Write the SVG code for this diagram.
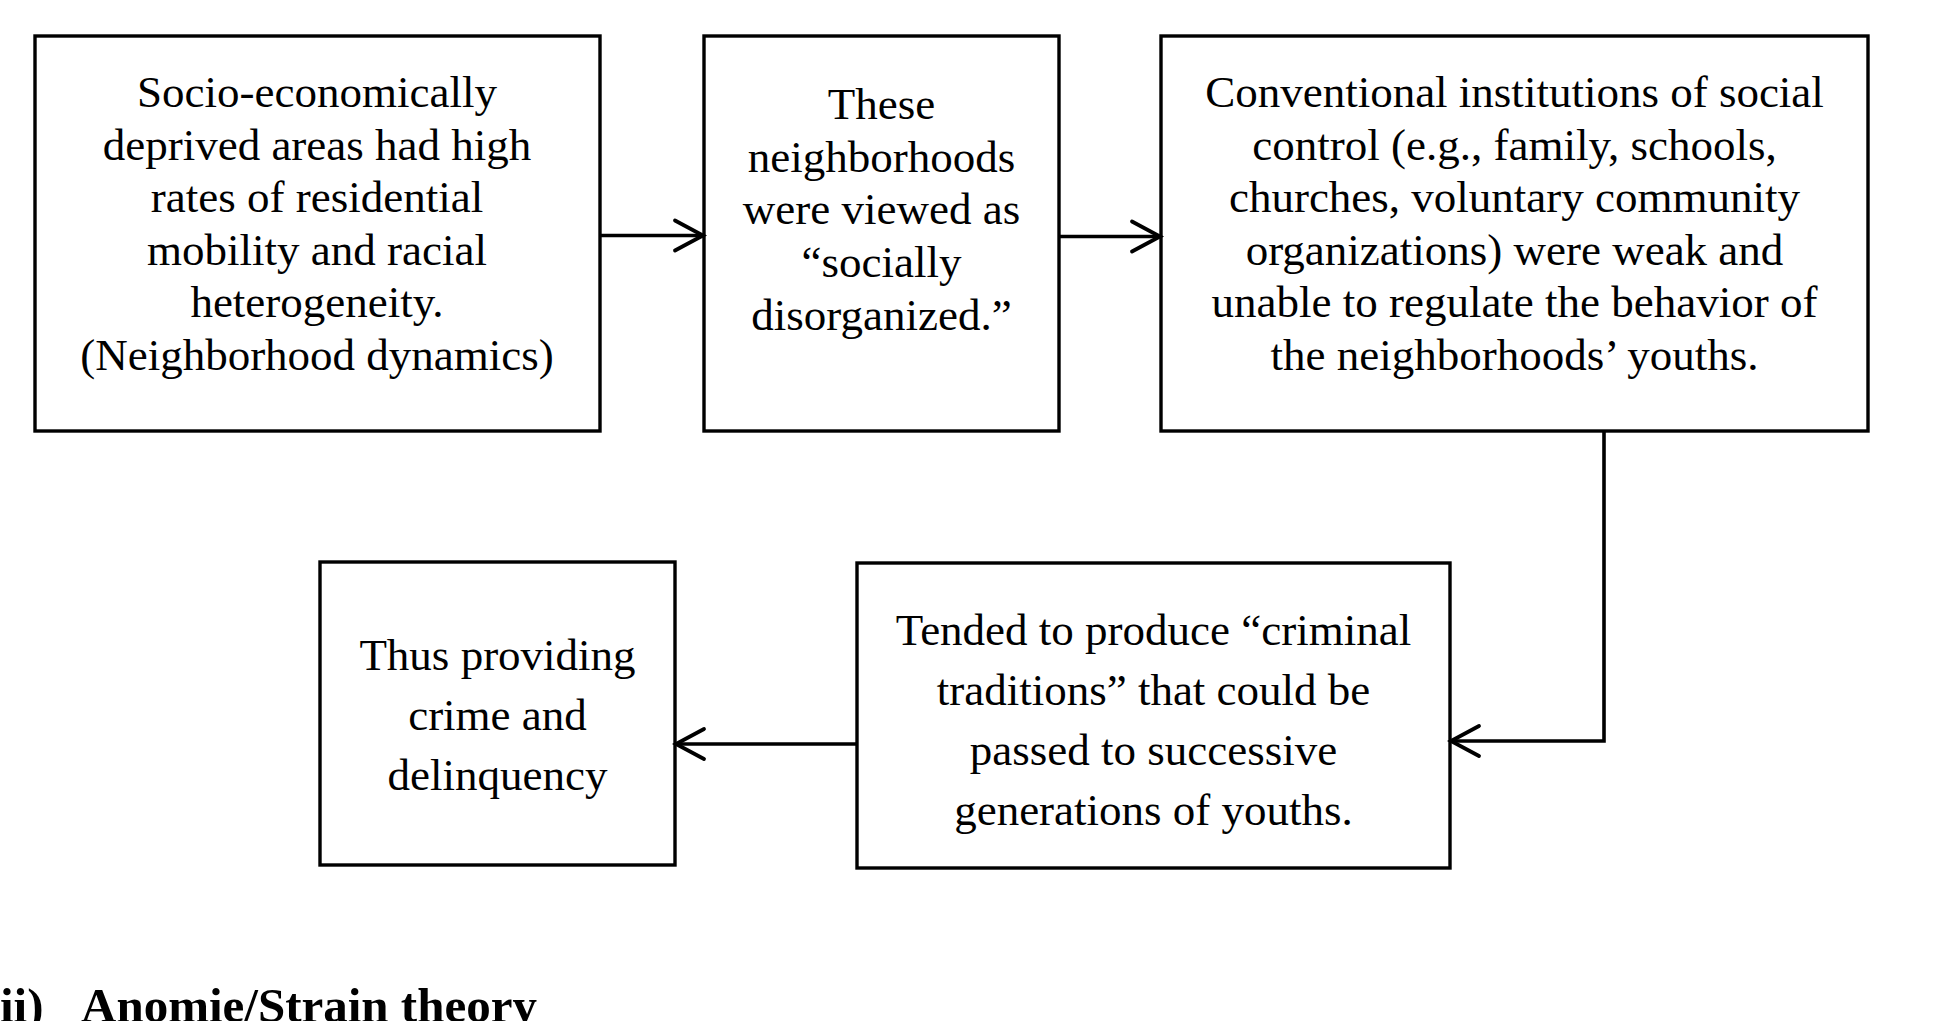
<svg xmlns="http://www.w3.org/2000/svg" width="1940" height="1021" viewBox="0 0 1940 1021">
<style>
  .box { fill: #ffffff; stroke: #000000; stroke-width: 3.4; }
  .t { font-family: "Liberation Serif", "Times New Roman", serif; font-size: 45px; fill: #000000; text-anchor: middle; }
  .h { font-family: "Liberation Serif", "Times New Roman", serif; font-size: 49px; font-weight: bold; fill: #000000; }
  .conn { fill: none; stroke: #000000; stroke-width: 3.6; }
</style>
<defs>
  <marker id="chev" viewBox="-34 -20 40 40" refX="0" refY="0" markerWidth="40" markerHeight="40" markerUnits="userSpaceOnUse" orient="auto">
    <path d="M-28,-15 L0,0 L-28,15" fill="none" stroke="#000000" stroke-width="3.8" stroke-linecap="round" stroke-linejoin="miter"/>
  </marker>
</defs>
<rect width="1940" height="1021" fill="#ffffff"/>

<g id="node-deprived">
  <rect class="box" x="35" y="36" width="565" height="395"/>
  <text class="t" x="317" y="107">Socio-economically</text>
  <text class="t" x="317" y="159.5">deprived areas had high</text>
  <text class="t" x="317" y="212">rates of residential</text>
  <text class="t" x="317" y="264.5">mobility and racial</text>
  <text class="t" x="317" y="317">heterogeneity.</text>
  <text class="t" x="317" y="369.5">(Neighborhood dynamics)</text>
</g>

<g id="node-disorganized">
  <rect class="box" x="704" y="36" width="355" height="395"/>
  <text class="t" x="881.5" y="118.5">These</text>
  <text class="t" x="881.5" y="171.5">neighborhoods</text>
  <text class="t" x="881.5" y="224">were viewed as</text>
  <text class="t" x="881.5" y="277">“socially</text>
  <text class="t" x="881.5" y="330">disorganized.”</text>
</g>

<g id="node-institutions">
  <rect class="box" x="1161" y="36" width="707" height="395"/>
  <text class="t" x="1514.5" y="107">Conventional institutions of social</text>
  <text class="t" x="1514.5" y="159.5">control (e.g., family, schools,</text>
  <text class="t" x="1514.5" y="212">churches, voluntary community</text>
  <text class="t" x="1514.5" y="264.5">organizations) were weak and</text>
  <text class="t" x="1514.5" y="317">unable to regulate the behavior of</text>
  <text class="t" x="1514.5" y="369.5">the neighborhoods’ youths.</text>
</g>

<g id="node-traditions">
  <rect class="box" x="857" y="563" width="593" height="305"/>
  <text class="t" x="1153.5" y="645">Tended to produce “criminal</text>
  <text class="t" x="1153.5" y="705">traditions” that could be</text>
  <text class="t" x="1153.5" y="765">passed to successive</text>
  <text class="t" x="1153.5" y="825">generations of youths.</text>
</g>

<g id="node-crime">
  <rect class="box" x="320" y="562" width="355" height="303"/>
  <text class="t" x="497.5" y="670">Thus providing</text>
  <text class="t" x="497.5" y="730">crime and</text>
  <text class="t" x="497.5" y="790">delinquency</text>
</g>

<g id="connectors">
  <line class="conn" x1="600" y1="235.5" x2="703" y2="235.5" marker-end="url(#chev)"/>
  <line class="conn" x1="1059" y1="236.5" x2="1160" y2="236.5" marker-end="url(#chev)"/>
  <polyline class="conn" points="1604,431 1604,741 1451,741" marker-end="url(#chev)"/>
  <line class="conn" x1="857" y1="744" x2="676" y2="744" marker-end="url(#chev)"/>
</g>

<g id="heading">
  <text class="h" x="0" y="1022">ii)</text>
  <text class="h" x="81" y="1022">Anomie/Strain theory</text>
</g>
</svg>
